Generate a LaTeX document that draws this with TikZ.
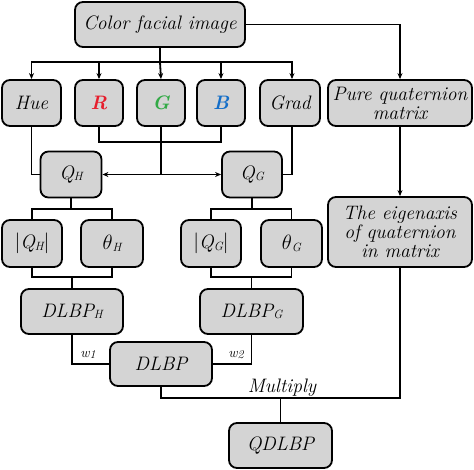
\documentclass[tikz,border=0pt]{standalone}
\usetikzlibrary{arrows.meta,calc}
\definecolor{boxgray}{gray}{0.83}
\definecolor{rred}{RGB}{230,30,45}
\definecolor{ggreen}{RGB}{50,170,70}
\definecolor{bblue}{RGB}{20,110,200}
\newcommand\sbs[1]{\raisebox{-1.5pt}{\fontsize{12}{12}\selectfont #1}}
\tikzset{
  box/.style={draw=black, line width=1.8pt, fill=boxgray, rounded corners=8pt, inner sep=0pt, align=center,
    font=\fontsize{19.5}{19}\selectfont\itshape},
  conn/.style={line width=1.8pt},
  arr/.style={conn, -{Stealth[length=6pt,width=5pt]}},
  lbl/.style={font=\fontsize{19.5}{20}\selectfont\itshape, inner sep=0pt},
  slbl/.style={font=\fontsize{14}{14}\selectfont\itshape, inner sep=0pt}
}
\begin{document}
\begin{tikzpicture}[x=1pt,y=-1pt]
\useasboundingbox (0,0) rectangle (474,470);
% nodes
\node[box, minimum width=170, minimum height=45] (cfi) at (160,24.5) {Color facial image};
\node[box, minimum width=59, minimum height=46] (hue) at (31.5,103) {Hue};
\node[box, minimum width=48, minimum height=46] (r) at (99,103) {\bfseries\color{rred}R};
\node[box, minimum width=48, minimum height=46] (g) at (161,103) {\bfseries\color{ggreen}G};
\node[box, minimum width=48, minimum height=46] (b) at (221,103) {\bfseries\color{bblue}B};
\node[box, minimum width=60, minimum height=46] (grad) at (290,103) {Grad};
\node[box, minimum width=144, minimum height=46] (pure) at (400,103) {Pure quaternion\\matrix};
\node[box, minimum width=61, minimum height=46] (qh) at (71,174.5) {Q\sbs{H}};
\node[box, minimum width=60, minimum height=46] (qg) at (252,174.5) {Q\sbs{G}};
\node[box, minimum width=60, minimum height=47] (absqh) at (32,243.5) {$|$Q\sbs{H}$|$};
\node[box, minimum width=62, minimum height=47] (thetah) at (112,243.5) {$\theta$\sbs{H}};
\node[box, minimum width=60, minimum height=47] (absqg) at (211,243.5) {$|$Q\sbs{G}$|$};
\node[box, minimum width=61, minimum height=47] (thetag) at (291.5,243.5) {$\theta$\sbs{G}};
\node[box, minimum width=144, minimum height=70] (eigen) at (400,232) {The eigenaxis\\of quaternion\\in matrix};
\node[box, minimum width=102, minimum height=45] (dlbph) at (72,311.5) {DLBP\sbs{H}};
\node[box, minimum width=103, minimum height=45] (dlbpg) at (251.5,311.5) {DLBP\sbs{G}};
\node[box, minimum width=102, minimum height=44] (dlbp) at (161,364) {DLBP};
\node[box, minimum width=103, minimum height=45] (qdlbp) at (280.5,445.5) {QDLBP};
% labels
\node[slbl] (w1) at (88,355) {w\sbs{1}};
\node[slbl] (w2) at (236,355) {w\sbs{2}};
\node[lbl, anchor=base] (mult) at (282,392) {Multiply};
% coordinates
\coordinate (topj) at (160,62);
\coordinate (gj) at (161,174.5);
\coordinate (mj) at (280.5,398);
% connectors: top
\draw[conn] (cfi.south) -- (topj);
\draw[arr] (topj) -| (hue.north);
\draw[arr] (topj) -| (r.north);
\draw[arr] (topj) -- (g.north);
\draw[arr] (topj) -| (b.north);
\draw[arr] (topj) -| ([xshift=2pt]grad.north);
\draw[arr] (cfi.east) -| (pure.north);
% to Q nodes
\draw[conn] (r.south) -- ++(0,15) -| (b.south);
\draw[conn] (g.south) -- (gj);
\draw[arr] (gj) -- (qh.east);
\draw[arr] (gj) -- (qg.west);
\draw[conn] (hue.south) |- (qh.west);
\draw[conn] ([xshift=2pt]grad.south) |- (qg.east);
% Q to components
\draw[conn] (qh.south) -- ++(0,11) coordinate (qhj);
\draw[conn] (absqh.north) |- (qhj) -| (thetah.north);
\draw[conn] (qg.south) -- ++(0,11) coordinate (qgj);
\draw[conn] (absqg.north) |- (qgj) -| (thetag.north);
% components to DLBP_x
\draw[conn] (dlbph.north) -- ++(0,-11) coordinate (dhj);
\draw[conn] (absqh.south) |- (dhj) -| (thetah.south);
\draw[conn] (dlbpg.north) -- ++(0,-11) coordinate (dgj);
\draw[conn] (absqg.south) |- (dgj) -| (thetag.south);
% DLBP
\draw[conn] (dlbph.south) |- (dlbp.west);
\draw[conn] (dlbpg.south) |- (dlbp.east);
% right column
\draw[arr] (pure.south) -- (eigen.north);
\draw[conn] (eigen.south) |- (mj) -| (dlbp.south);
\draw[conn] (mj) -- (qdlbp.north);
\end{tikzpicture}
\end{document}
